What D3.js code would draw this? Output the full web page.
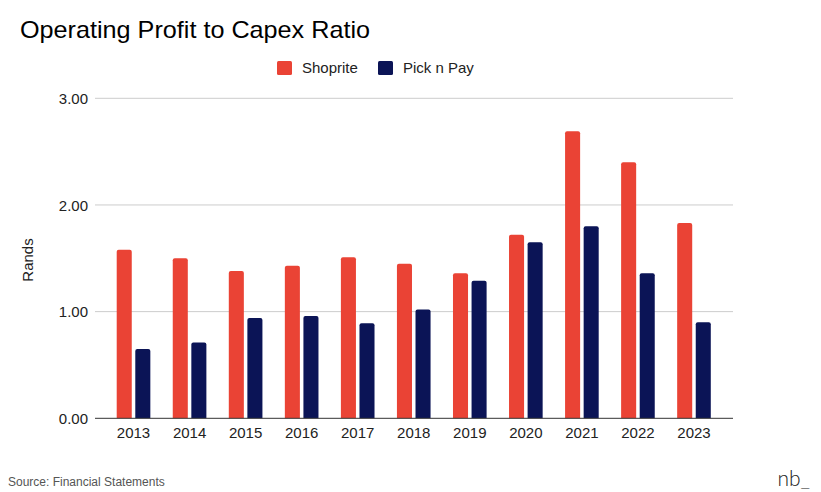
<!DOCTYPE html>
<html><head><meta charset="utf-8">
<script src="https://cdn.jsdelivr.net/npm/d3@7"></script>
<style>body{margin:0;background:#fff;}svg{display:block;font-family:"Liberation Sans",Arial,sans-serif;}</style>
</head><body><div id="chart"></div>
<script>
const years = ["2013","2014","2015","2016","2017","2018","2019","2020","2021","2022","2023"];
const shoprite = [1.58,1.50,1.38,1.43,1.51,1.45,1.36,1.72,2.69,2.40,1.83];
const picknpay = [0.65,0.71,0.94,0.96,0.89,1.02,1.29,1.65,1.80,1.36,0.90];
const seriesNames = ["Shoprite","Pick n Pay"];
const colors = ["#ea4335","#0b1456"];
const yTicks = [0,1,2,3];

const W = 821, H = 492;
const svg = d3.select("#chart").append("svg").attr("width",W).attr("height",H);

const y = d3.scaleLinear().domain([0,3]).range([418.3,98.3]);
const x0 = d3.scaleBand().domain(years).range([105.5,722]).paddingInner(0.4).paddingOuter(0.2);
const x1 = d3.scaleBand().domain(seriesNames).range([0,x0.bandwidth()]).paddingInner(0.19);

// gridlines
svg.append("g").selectAll("line").data(yTicks.filter(d=>d>0)).join("line")
  .attr("x1",95).attr("x2",733).attr("y1",d=>y(d)).attr("y2",d=>y(d))
  .attr("stroke","#cccccc").attr("stroke-width",1);

// y labels
const yAxis = d3.axisLeft(y).tickValues(yTicks).tickFormat(d3.format(".2f")).tickSize(0).tickPadding(0);
const ga = svg.append("g").attr("transform","translate(88,0)").call(yAxis);
ga.select(".domain").remove();
ga.selectAll("text").attr("font-size",15).attr("fill","#222").attr("font-family","Liberation Sans, Arial, sans-serif").attr("dy","0.35em");

// bars
const data = years.map((yr,i)=>({yr, vals:[shoprite[i],picknpay[i]]}));
const groups = svg.append("g").selectAll("g").data(data).join("g")
  .attr("transform",d=>`translate(${x0(d.yr)},0)`);
function topRounded(xp,yp,w,h,r){
  r=Math.min(r,h);
  return `M${xp},${yp+h}V${yp+r}Q${xp},${yp} ${xp+r},${yp}H${xp+w-r}Q${xp+w},${yp} ${xp+w},${yp+r}V${yp+h}Z`;
}
groups.selectAll("path").data(d=>d.vals.map((v,j)=>({v,s:seriesNames[j],c:colors[j]}))).join("path")
  .attr("d",d=>topRounded(x1(d.s),y(d.v),x1.bandwidth(),y(0)-y(d.v),2))
  .attr("fill",d=>d.c);

// baseline
svg.append("line").attr("x1",95).attr("x2",733).attr("y1",y(0)).attr("y2",y(0)).attr("stroke","#333").attr("stroke-width",1);

// x labels
const xAxis = d3.axisBottom(x0).tickSize(0).tickPadding(0);
const gx = svg.append("g").attr("transform",`translate(0,${y(0)})`).call(xAxis);
gx.select(".domain").remove();
gx.selectAll("text").attr("font-size",15).attr("fill","#222").attr("font-family","Liberation Sans, Arial, sans-serif").attr("dy","0").attr("y",20);

// title
svg.append("text").attr("x",20).attr("y",38).attr("font-size",24).attr("fill","#000")
  .attr("textLength",350).attr("lengthAdjust","spacingAndGlyphs").text("Operating Profit to Capex Ratio");

// legend
const legX = [277,378];
seriesNames.forEach((n,i)=>{
  svg.append("rect").attr("x",legX[i]).attr("y",61).attr("width",15).attr("height",14).attr("rx",1.5).attr("fill",colors[i]);
  svg.append("text").attr("x",legX[i]+25).attr("y",72.5).attr("font-size",15).attr("fill","#222").text(n);
});

// y title
svg.append("text").attr("transform","translate(33,260) rotate(-90)").attr("text-anchor","middle").attr("font-size",15).attr("fill","#222").text("Rands");

// source
svg.append("text").attr("x",8).attr("y",486).attr("font-size",12).attr("fill","#555").text("Source: Financial Statements");
svg.append("text").attr("x",810).attr("y",486).attr("text-anchor","end").attr("font-size",21).attr("fill","#222").attr("font-weight",300).attr("font-family","Lato, 'Open Sans', sans-serif").text("nb_");
</script></body></html>
